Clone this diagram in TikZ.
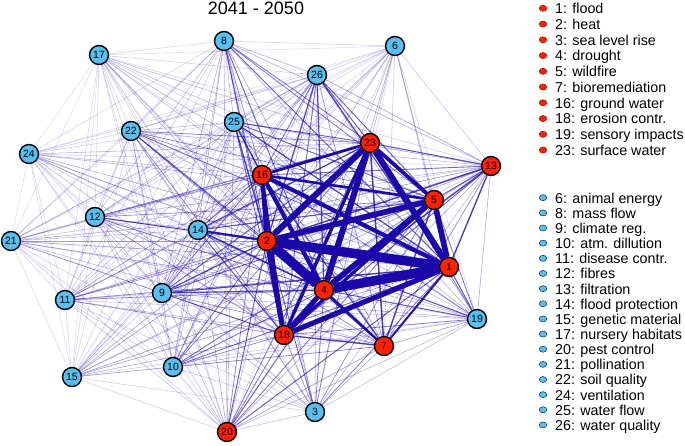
\documentclass[tikz,border=0pt]{standalone}
\usepackage{fontspec}
\setmainfont{Liberation Sans}
\usetikzlibrary{shapes.geometric}
\definecolor{edgec}{RGB}{28,8,168}
\definecolor{nred}{RGB}{255,32,0}
\definecolor{nblue}{RGB}{88,192,240}
\definecolor{dred}{RGB}{170,20,0}
\definecolor{dblue}{RGB}{20,60,110}
\pgfdeclarelayer{background}
\pgfsetlayers{background,main}
\begin{document}
\begin{tikzpicture}[x=1pt,y=-1pt,
  gnode/.style={circle,minimum size=19pt,inner sep=0pt,line width=1.4pt,draw=black,font=\fontsize{10.5}{12}\selectfont},
  ldot/.style={ellipse,minimum width=7.5pt,minimum height=6pt,inner sep=0pt,line width=0.6pt},
  ltext/.style={anchor=base west,inner sep=0pt,font=\fontsize{14.3}{17}\selectfont},
  edge/.style={draw=edgec}]
\useasboundingbox (0,0) rectangle (685,445);
\node[anchor=base,inner sep=0pt,font=\fontsize{18}{21}\selectfont] (title) at (256,14.7) {2041 - 2050};
\foreach \id/\px/\py/\st/\col in {
1/449/267/1.0/nred, 2/267/241/1.0/nred, 3/315/412/0.3/nblue, 4/324/290/1.0/nred,
5/434/200/0.83/nred, 6/395/46/0.16/nblue, 7/384/346/0.55/nred, 8/224/41/0.35/nblue,
9/162/293/0.42/nblue, 10/173/367/0.32/nblue, 11/65/300/0.26/nblue, 12/95/217/0.3/nblue,
13/491/166/0.45/nred, 14/198/230/0.47/nblue, 15/72/377/0.2/nblue, 16/262/175/0.74/nred,
17/99/55/0.15/nblue, 18/284/335/0.8/nred, 19/477/319/0.37/nblue, 20/227/432/0.36/nred,
21/11/241/0.2/nblue, 22/131/131/0.32/nblue, 23/370/143/0.85/nred, 24/29/154/0.16/nblue,
25/234/122/0.42/nblue, 26/317/75/0.42/nblue}
{
  \node[gnode,fill=\col] (n\id) at (\px,\py) {\id};
  \expandafter\xdef\csname st\id\endcsname{\st}
}
\begin{pgfonlayer}{background}
\foreach \pass in {0,1}{
 \foreach \i in {1,...,26}{
  \foreach \j in {1,...,26}{
   \ifnum\j>\i
    \pgfmathsetmacro\w{\csname st\i\endcsname*\csname st\j\endcsname}
    \pgfmathtruncatemacro\big{(\w>=0.5)}
    \ifnum\big=\pass
     \pgfmathsetmacro\lw{0.55+9*\w*\w*\w}
     \pgfmathsetmacro\op{min(1,0.12+1.5*\w)}
     \draw[edge,line width=\lw pt,draw opacity=\op] (n\i) -- (n\j);
    \fi
   \fi
  }
 }
}
\end{pgfonlayer}
\foreach \t [count=\k from 0] in {1: flood, 2: heat, 3: sea level rise, 4: drought, 5: wildfire, 7: bioremediation, 16: ground water, 18: erosion contr., 19: sensory impacts, 23: surface water}
{
  \pgfmathsetmacro\yy{8.3+15.75*\k}
  \node[ldot,fill=nred,draw=dred] (lr\k) at (543,\yy) {};
  \node[ltext] (lrt\k) at (555,\yy+5.4) {\t};
}
\foreach \t [count=\k from 0] in {6: animal energy, 8: mass flow, 9: climate reg., 10: atm. dillution, 11: disease contr., 12: fibres, 13: filtration, 14: flood protection, 15: genetic material, 17: nursery habitats, 20: pest control, 21: pollination, 22: soil quality, 24: ventilation, 25: water flow, 26: water quality}
{
  \pgfmathsetmacro\yy{197.7+15.15*\k}
  \node[ldot,fill=nblue,draw=dblue] (lb\k) at (543,\yy) {};
  \node[ltext] (lbt\k) at (555,\yy+5.4) {\t};
}
\end{tikzpicture}
\end{document}
